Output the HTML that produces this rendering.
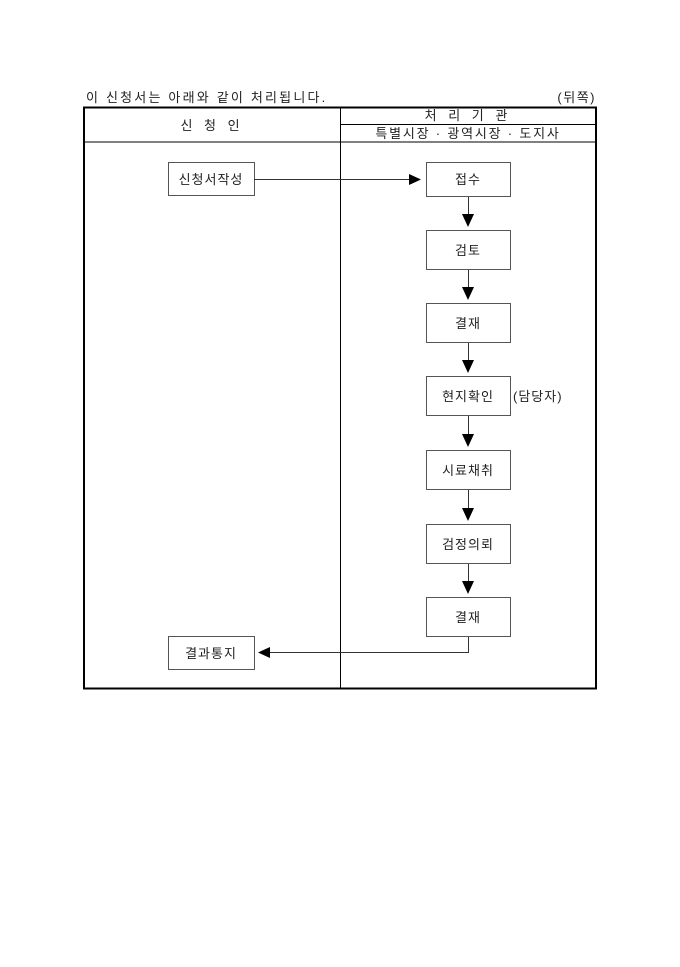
<!DOCTYPE html>
<html><head><meta charset="utf-8"><style>
body{margin:0;background:#fff;}
svg text{font-family:"Liberation Sans","Noto Sans CJK KR",sans-serif;fill:#222;}
</style></head><body>
<svg width="680" height="962" xmlns="http://www.w3.org/2000/svg">
<text x="86" y="102" font-size="13" letter-spacing="2.2">이 신청서는 아래와 같이 처리됩니다.</text>
<text x="596" y="102" font-size="13" text-anchor="end" letter-spacing="1.5">(뒤쪽)</text>
<rect x="84" y="107.5" width="512" height="581" fill="none" stroke="#000" stroke-width="2"/>
<line x1="84" y1="142" x2="596" y2="142" stroke="#000" stroke-width="1"/>
<line x1="340.5" y1="107" x2="340.5" y2="689" stroke="#000" stroke-width="1"/>
<line x1="340" y1="124.5" x2="596" y2="124.5" stroke="#000" stroke-width="1"/>
<text x="212" y="130" font-size="13" text-anchor="middle" letter-spacing="4">신 청 인</text>
<text x="468" y="120" font-size="13" text-anchor="middle" letter-spacing="4">처 리 기 관</text>
<text x="468" y="138" font-size="13" text-anchor="middle" letter-spacing="1.8">특별시장 · 광역시장 · 도지사</text>
<g fill="#fff" stroke="#555" stroke-width="1">
<rect x="168.5" y="162.5" width="86" height="33"/>
<rect x="168.5" y="636.5" width="86" height="33"/>
<rect x="426.5" y="162.5" width="84" height="34"/>
<rect x="426.5" y="230.5" width="84" height="39"/>
<rect x="426.5" y="303.5" width="84" height="39"/>
<rect x="426.5" y="376.5" width="84" height="39"/>
<rect x="426.5" y="450.5" width="84" height="39"/>
<rect x="426.5" y="524.5" width="84" height="39"/>
<rect x="426.5" y="597.5" width="84" height="39"/>
</g>
<g font-size="13" text-anchor="middle" letter-spacing="1">
<text x="211" y="184">신청서작성</text>
<text x="211" y="658">결과통지</text>
<text x="468" y="184">접수</text>
<text x="468" y="255">검토</text>
<text x="468" y="328">결재</text>
<text x="468" y="401">현지확인</text>
<text x="468" y="475">시료채취</text>
<text x="468" y="549">검정의뢰</text>
<text x="468" y="622">결재</text>
</g>
<text x="513" y="401" font-size="13" letter-spacing="1">(담당자)</text>
<g stroke="#333" stroke-width="1" fill="none">
<line x1="254" y1="179.5" x2="410" y2="179.5"/>
<line x1="468.5" y1="197" x2="468.5" y2="215"/>
<line x1="468.5" y1="270" x2="468.5" y2="288"/>
<line x1="468.5" y1="343" x2="468.5" y2="361"/>
<line x1="468.5" y1="416" x2="468.5" y2="435"/>
<line x1="468.5" y1="490" x2="468.5" y2="509"/>
<line x1="468.5" y1="564" x2="468.5" y2="582"/>
<polyline points="468.5,637 468.5,652.5 270,652.5"/>
</g>
<g fill="#000">
<polygon points="409,174 421,179.5 409,185"/>
<polygon points="462,214 474,214 468,227"/>
<polygon points="462,287 474,287 468,300"/>
<polygon points="462,360 474,360 468,373"/>
<polygon points="462,434 474,434 468,447"/>
<polygon points="462,508 474,508 468,521"/>
<polygon points="462,581 474,581 468,594"/>
<polygon points="270,647 258,652.5 270,658"/>
</g>
</svg>
</body></html>
